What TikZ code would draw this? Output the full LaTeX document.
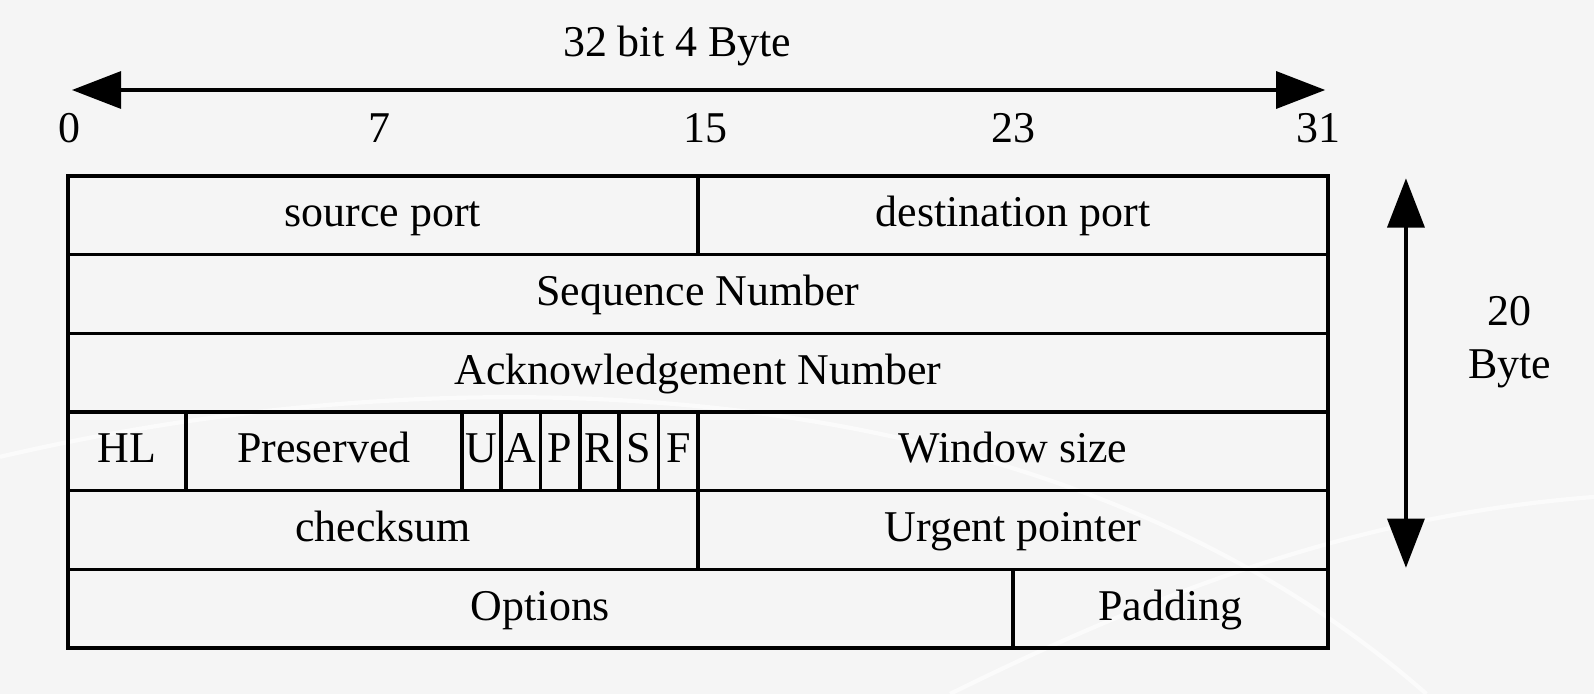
\documentclass[tikz,border=0pt]{standalone}
\usepackage{fontspec}
\setmainfont{Liberation Serif}
\usetikzlibrary{arrows.meta}
\definecolor{fond}{RGB}{245,245,245}

\begin{document}
\begin{tikzpicture}[x=0.39375cm,y=-0.7867cm,
  every node/.style={font=\fontsize{12.5}{15}\selectfont, inner sep=0pt, text height=0.85em, text depth=0.2em},
  fleche/.style={line width=1.1pt,{Triangle[length=14pt,width=10.5pt]}-{Triangle[length=14pt,width=10.5pt]}}]
% fond gris
\fill[fond] (-1.727,-2.237) rectangle (38.756,6.584);
\useasboundingbox (-1.727,-2.237) rectangle (38.756,6.584);
\draw[white, line width=1.2pt, opacity=.6] (-1.727,3.57) .. controls (10,2.2) and (25,2.4) .. (34.5,6.584);
\draw[white, line width=1.2pt, opacity=.6] (22.4,6.584) .. controls (28,5.2) and (33,4.3) .. (38.756,4.08);
% fleches
\coordinate (g) at (0.1,-1.093);
\coordinate (d) at (31.93,-1.093);
\coordinate (h) at (33.98,0.03);
\coordinate (b) at (33.98,4.98);
\draw[fleche] (g) -- (d);
\draw[fleche] (h) -- (b);
\node (titre) at (15.47,-1.66) {32 bit 4 Byte};
\node (taille) at (36.62,2.11) [align=center, text height=, text depth=] {20\\Byte};
% numeros de bits
\node (n0) at (0.05,-0.57) {0};
\node (n7) at (7.92,-0.57) {7};
\node (n15) at (16.2,-0.57) {15};
\node (n23) at (24.0,-0.57) {23};
\node (n31) at (31.75,-0.57) {31};
% tableau
\begin{scope}[line width=1pt]
    \draw (0,0) rectangle (32,6);
    \foreach \r in {1,...,5} \draw (0,\r) -- (32,\r);
    \draw (16,0) -- (16,1);
    \draw (3,3) -- (3,4);
    \foreach \c in {10,...,16} \draw (\c,3) -- (\c,4);
    \draw (16,4) -- (16,5);
    \draw (24,5) -- (24,6);
\end{scope}
    \node (srcport) at (8,0.5) {source port};
    \node (dstport) at (24,0.5) {destination port};
    \node (seq) at (16,1.5) {Sequence Number};
    \node (ack) at (16,2.5) {Acknowledgement Number};
    \node (hl) at (1.5,3.5) {HL};
    \node (pres) at (6.5,3.5) {Preserved};
    \foreach \f [count=\i from 0] in {U,A,P,R,S,F}
        \node (flag\f) at (10.5+\i,3.5) {\f};
    \node (win) at (24,3.5) {Window size};
    \node (chk) at (8,4.5) {checksum};
    \node (urg) at (24,4.5) {Urgent pointer};
    \node (opt) at (12,5.5) {Options};
    \node (pad) at (28,5.5) {Padding};
\end{tikzpicture}
\end{document}
